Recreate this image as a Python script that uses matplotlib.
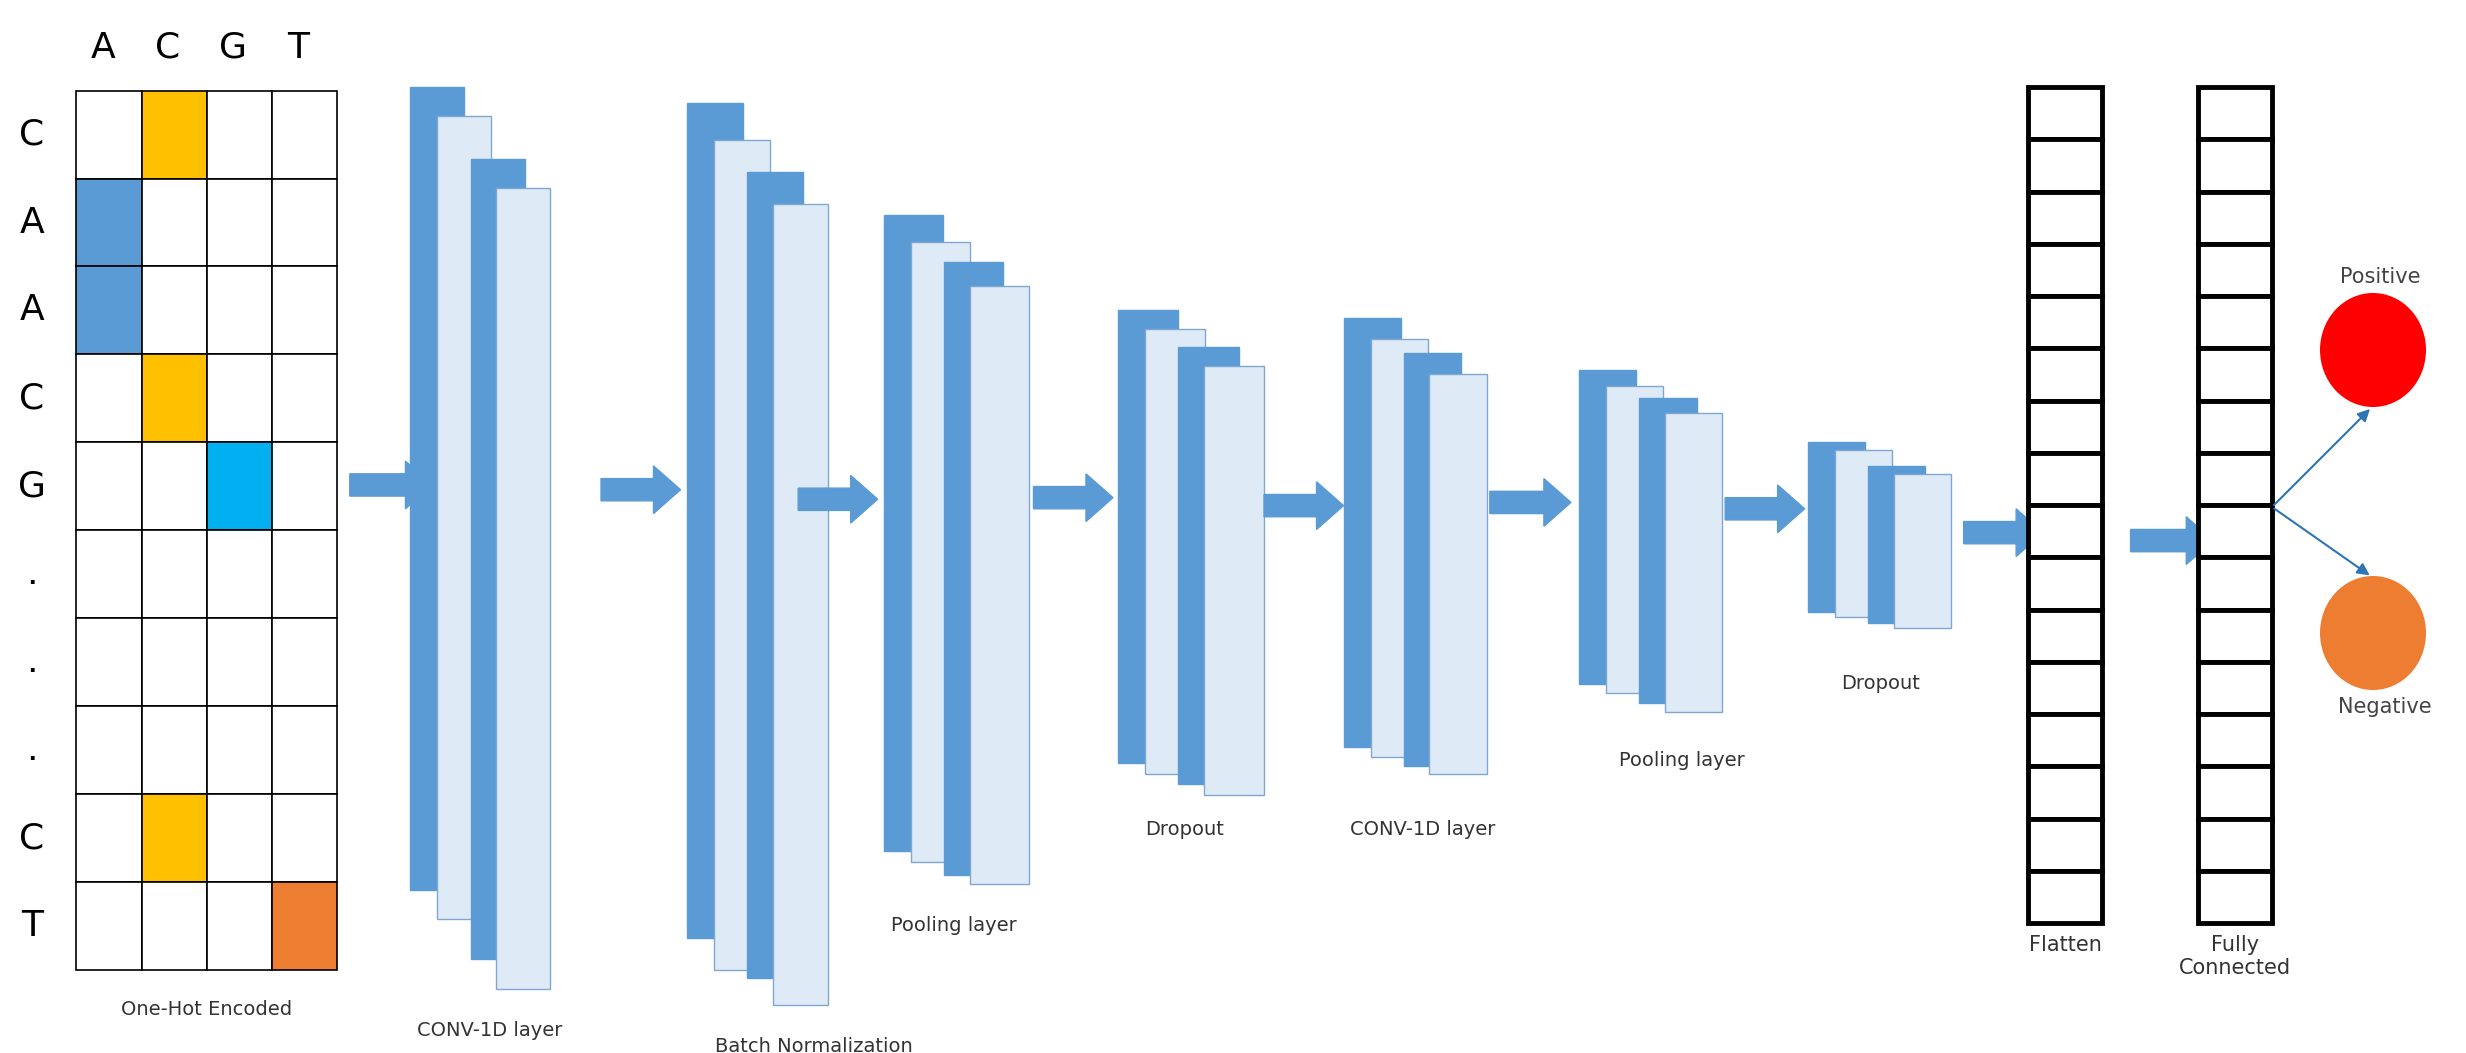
import matplotlib.pyplot as plt
from matplotlib.patches import Rectangle, FancyArrow, Ellipse

S = 1.59  # layout was measured on a downscaled copy

# one-hot grid
seq = ['C', 'A', 'A', 'C', 'G', '.', '.', '.', 'C', 'T']
bases = ['A', 'C', 'G', 'T']
hot = {0: (1, '#FFC000'), 1: (0, '#5B9BD5'), 2: (0, '#5B9BD5'), 3: (1, '#FFC000'),
       4: (2, '#00B0F0'), 8: (1, '#FFC000'), 9: (3, '#ED7D31')}

# layer stacks: (x of first dark, tops, bottoms, width, label, label x, label y)
stacks = [
    (258, [55, 73, 100, 118], [560, 578, 603, 622], 34, 'CONV-1D layer', 308, 648),
    (432, [65, 88, 108, 128], [590, 610, 615, 632], 35, 'Batch Normalization', 512, 658),
    (556, [135, 152, 165, 180], [535, 542, 550, 556], 37, 'Pooling layer', 600, 582),
    (703, [195, 207, 218, 230], [480, 487, 493, 500], 38, 'Dropout', 745, 522),
    (845, [200, 213, 222, 235], [470, 476, 482, 487], 36, 'CONV-1D layer', 895, 522),
    (993, [233, 243, 250, 260], [430, 436, 442, 448], 36, 'Pooling layer', 1058, 478),
    (1137, [278, 283, 293, 298], [385, 388, 392, 395], 36, 'Dropout', 1183, 430),
]
offsets = [0, 17, 38, 54]

arrows_x = [(220, 272), (378, 428), (502, 552), (650, 700), (795, 845),
            (937, 988), (1085, 1135), (1235, 1285), (1340, 1392)]
arrows_y = [305, 308, 314, 313, 318, 316, 320, 335, 340]

DARK = '#5B9BD5'
LIGHT = '#DEEBF7'

fig = plt.figure(figsize=(24.66, 10.53), dpi=100)
ax = fig.add_axes([0, 0, 1, 1])
ax.set_xlim(0, 2466)
ax.set_ylim(1053, 0)
ax.axis('off')

# grid
gx0, gy0, cw, ch = 48 * S, 57 * S, 41 * S, 55.3 * S
for r, lab in enumerate(seq):
    for c in range(4):
        fc = 'white'
        if r in hot and hot[r][0] == c:
            fc = hot[r][1]
        ax.add_patch(Rectangle((gx0 + c * cw, gy0 + r * ch), cw, ch, fc=fc, ec='black', lw=1.2))
    ax.text(20 * S, gy0 + (r + 0.5) * ch, lab, fontsize=26, ha='center', va='center')
for c, b in enumerate(bases):
    ax.text(gx0 + (c + 0.5) * cw - 6, 30 * S, b, fontsize=26, ha='center', va='center')
ax.text(130 * S, 635 * S, 'One-Hot Encoded', fontsize=14, ha='center', va='center', color='#333333')

# stacks
for x0, tops, bots, w, lab, lx, ly in stacks:
    for i in range(4):
        col = DARK if i % 2 == 0 else LIGHT
        ec = DARK if i % 2 == 0 else '#7FA7CF'
        ax.add_patch(Rectangle(((x0 + offsets[i]) * S, tops[i] * S), w * S, (bots[i] - tops[i]) * S,
                               fc=col, ec=ec, lw=1))
    ax.text(lx * S, ly * S, lab, fontsize=14, ha='center', va='center', color='#333333')

# block arrows
for (xa, xb), y in zip(arrows_x, arrows_y):
    ax.add_patch(FancyArrow(xa * S, y * S, (xb - xa) * S, 0, width=14 * S, head_width=30 * S,
                            head_length=17 * S, length_includes_head=True, fc=DARK, ec=DARK))

# flatten and fully connected columns
n_cells = 16
for x0, lab in [(2028, 'Flatten'), (2198, 'Fully\nConnected')]:
    h = (923 - 87) / n_cells
    for i in range(n_cells):
        ax.add_patch(Rectangle((x0, 87 + i * h), 74, h, fc='white', ec='black', lw=3.5))
    ax.text(x0 + 37, 935, lab, fontsize=15, ha='center', va='top', color='#333333', linespacing=1.2)

# outputs
ax.add_patch(Ellipse((2373, 350), 106, 114, fc='#FF0000', ec='none'))
ax.add_patch(Ellipse((2373, 633), 106, 114, fc='#ED7D31', ec='none'))
ax.text(2380, 277, 'Positive', fontsize=15, ha='center', va='center', color='#444444')
ax.text(2385, 707, 'Negative', fontsize=15, ha='center', va='center', color='#444444')
for ty in [407, 577]:
    ax.annotate('', xy=(2372, ty), xytext=(2272, 507),
                arrowprops=dict(arrowstyle='-|>', color='#2E75B6', lw=1.5, mutation_scale=18))

fig.savefig('out.png', dpi=100)
